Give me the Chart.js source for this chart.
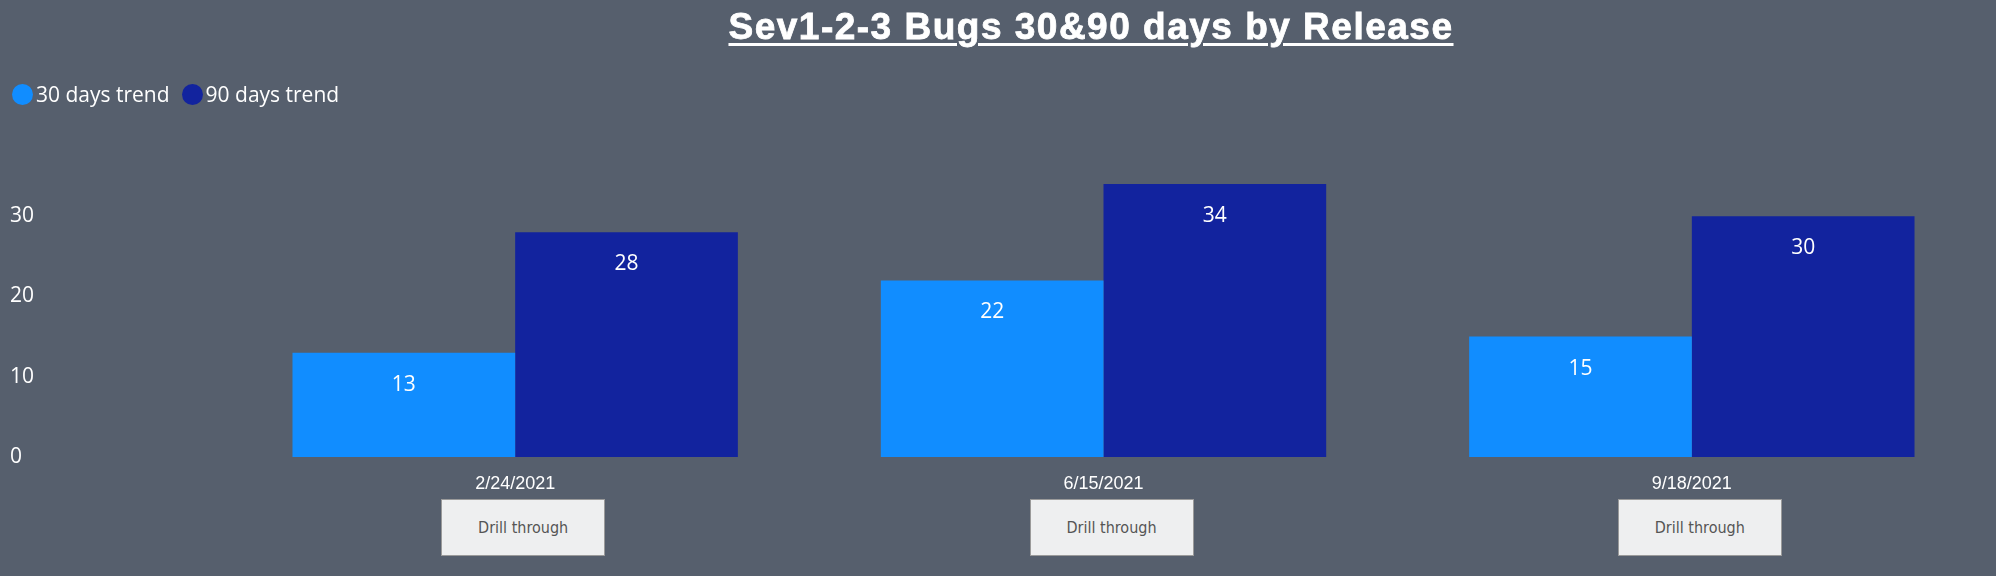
<!DOCTYPE html>
<html><head><meta charset="utf-8">
<script src="https://cdn.jsdelivr.net/npm/chart.js@4"></script>
<style>
html,body{margin:0;padding:0;background:#565F6D;width:1996px;height:576px;overflow:hidden;font-family:"Open Sans",sans-serif}
#wrap{position:relative;width:1996px;height:576px}
#title{position:absolute;top:6px;left:0;width:2182px;text-align:center;font:bold 37px "Liberation Sans",Arial,sans-serif;letter-spacing:1.5px;-webkit-text-stroke:0.8px #fff;color:#fff;text-decoration:underline;text-decoration-thickness:3px;text-underline-offset:4px}
#legend{position:absolute;top:80px;left:12px;color:#fff;font-size:21px;display:flex;gap:12px}
#legend span{display:flex;align-items:center}
#legend i{display:inline-block;width:21px;height:21px;border-radius:50%;margin-right:3px}
canvas{position:absolute;top:0;left:0}
.btn{position:absolute;width:164px;height:57px;background:#EEEFF0;border:1px solid #9a9a9a;box-sizing:border-box;color:#555;font:16px "DejaVu Sans Condensed","Open Sans",sans-serif;display:flex;align-items:center;justify-content:center}
</style></head><body>
<div id="wrap">
<canvas id="c" width="1996" height="576"></canvas>
<div id="title">Sev1-2-3 Bugs 30&amp;90 days by Release</div>
<div id="legend"></div>
</div>
<script>
const categories = ["2/24/2021","6/15/2021","9/18/2021"];
const days30 = [13,22,15];
const days90 = [28,34,30];
const seriesNames = ["30 days trend","90 days trend"];
const yTicks = [0,10,20,30];
const colors = ["#118DFF","#12239E"];

document.getElementById('legend').innerHTML = seriesNames.map((n,i)=>`<span><i style="background:${colors[i]}"></i>${n}</span>`).join('');

const labelPlugin = {
  id:'lbl',
  afterDatasetsDraw(chart){
    const ctx=chart.ctx;
    ctx.save();ctx.fillStyle='#fff';ctx.font='21px "Open Sans"';ctx.textAlign='center';ctx.textBaseline='middle';
    chart.data.datasets.forEach((ds,di)=>{
      chart.getDatasetMeta(di).data.forEach((b,i)=>{ctx.fillText(ds.data[i],b.x,b.y+32);});
    });
    ctx.restore();
  },
  afterRender(chart){
    if(document.querySelector('.btn'))return;
    const xs=chart.scales.x;
    categories.forEach((c,i)=>{
      const d=document.createElement('div');d.className='btn';d.textContent='Drill through';
      d.style.left=(xs.getPixelForValue(i)-74)+'px';d.style.top='499px';
      document.getElementById('wrap').appendChild(d);
    });
  }
};

new Chart(document.getElementById('c'),{
  type:'bar',
  data:{labels:categories,datasets:[
    {label:seriesNames[0],data:days30,backgroundColor:colors[0]},
    {label:seriesNames[1],data:days90,backgroundColor:colors[1]}
  ]},
  options:{
    responsive:false,animation:false,
    layout:{padding:{top:152,right:10,left:10,bottom:0}},
    datasets:{bar:{categoryPercentage:0.757,barPercentage:1}},
    plugins:{legend:{display:false},tooltip:{enabled:false}},
    scales:{
      x:{grid:{display:false},border:{display:false},
        ticks:{color:'#fff',font:{size:18,family:'"Liberation Sans"'},padding:8},
        afterFit(s){s.height=119;}},
      y:{min:0,max:38,grid:{display:false},border:{display:false},
        afterBuildTicks(s){s.ticks=yTicks.map(v=>({value:v}));},
        ticks:{color:'#fff',font:{size:21,family:'"Open Sans"'},crossAlign:'far',padding:0},
        afterFit(s){s.width=211;}}
    }
  },
  plugins:[labelPlugin]
});
</script>
</body></html>
